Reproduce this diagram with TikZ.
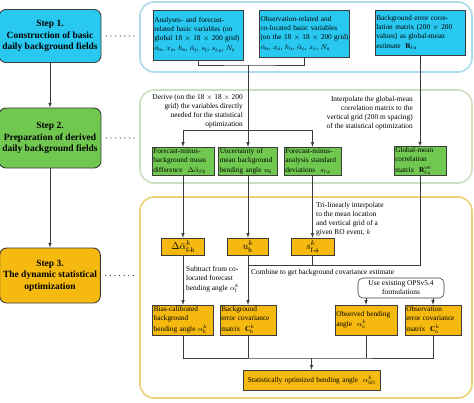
\documentclass[tikz,border=0pt]{standalone}
\usepackage{amsmath}
\usepackage{fontspec}
\setmainfont{Liberation Serif}
\usepackage{tikz}
\usetikzlibrary{arrows}
\usetikzlibrary{positioning}
\definecolor{mdark}{RGB}{60, 60, 60}
\definecolor{mcyan}{RGB}{40, 200, 240}
\definecolor{mgreen}{RGB}{112, 200, 80}
\definecolor{morange}{RGB}{245, 185, 15}
\definecolor{mpanelA}{RGB}{170, 220, 235}
\definecolor{mpanelB}{RGB}{205, 222, 190}
\definecolor{mpanelC}{RGB}{235, 210, 120}
\tikzset{stepbox/.style = {draw = mdark, line width = 0.9, rounded corners = 7, align = center, minimum width = 96, font = \bfseries\fontsize{9.5}{11.5}\selectfont}}
\tikzset{varbox/.style = {draw = mdark, line width = 0.5, align = left, inner sep = 1.2, font = \fontsize{7.3}{8.8}\selectfont}}
\tikzset{symbox/.style = {draw = mdark, line width = 0.5, fill = morange, inner sep = 0, minimum height = 17, font = \fontsize{10}{11}\selectfont}}
\tikzset{panel/.style = {line width = 1.6, rounded corners = 14, fill = white}}
\tikzset{note/.style = {inner sep = 0, font = \fontsize{7.4}{9}\selectfont}}
\tikzset{dotline/.style = {draw = mdark, line width = 1.3, line cap = round, dash pattern = on 0pt off 4.6pt}}
\tikzset{conn/.style = {draw = mdark, line width = 0.6}}
\tikzset{arr/.style = {conn, ->}}

\begin{document}
\begin{tikzpicture}[x=1pt, y=-1pt, >=latex]
    \useasboundingbox (0, 0) rectangle (474, 402);

    % panels
    \node [panel, draw = mpanelA, minimum width = 332, minimum height = 70] (p1) at (306, 37) {};
    \node [panel, draw = mpanelB, minimum width = 332, minimum height = 93] (p2) at (306, 136.5) {};
    \node [panel, draw = mpanelC, minimum width = 332, minimum height = 201] (p3) at (306, 297.5) {};

    % steps
    \node [stepbox, fill = mcyan, minimum height = 53] (s1) at (50, 36) {Step 1.\\Construction of basic\\daily background fields};
    \node [stepbox, fill = mgreen, minimum height = 60] (s2) at (50, 138) {Step 2.\\Preparation of derived\\daily background fields};
    \node [stepbox, fill = morange, minimum height = 55] (s3) at (50, 275.5) {Step 3.\\The dynamic statistical\\optimization};
    \draw [arr] (s1) -- (s2);
    \draw [arr] (s2) -- (s3);
    \draw [dotline] ([xshift = 5pt]s1.east) -- ([xshift = -3pt]s1.east -| p1.west);
    \draw [dotline] ([xshift = 5pt]s2.east) -- ([xshift = -3pt]s2.east -| p2.west);
    \draw [dotline] ([xshift = 5pt]s3.east) -- ([xshift = -3pt]s3.east -| p3.west);

    % step 1
    \node [varbox, fill = mcyan, text width = 87.5, minimum height = 50] (anl) at (198, 35) {Analyses- and forecast-\\related basic variables (on\\global 18 $\times$ 18 $\times$ 200 grid)\\[1.6pt]$\bar{\alpha}_{\text{a}}$, $x_{\text{a}}$, $h_{\text{a}}$, $\bar{\alpha}_{\text{f}}$, $s_{\text{f}}$, $s_{\text{f-a}}$, $N_{\text{a}}$};
    \node [varbox, fill = mcyan, text width = 88, minimum height = 47] (obs) at (304.5, 33.5) {Observation-related and\\co-located basic variables\\(on the 18 $\times$ 18 $\times$ 200 grid)\\[1.6pt]$\bar{\alpha}_{\text{o}}$, $x_{\text{o}}$, $h_{\text{o}}$, $\bar{\alpha}_{\text{c}}$, $x_{\text{c}}$, $N_{\text{o}}$};
    \node [varbox, fill = mcyan, text width = 87.5, minimum height = 45] (cor) at (420, 32.5) {Background error corre-\\lation matrix (200 $\times$ 200\\values) as global-mean\\[1pt]estimate~~$\mathbf{R}_{\text{f-a}}$};

    % step 2
    \node [varbox, fill = mgreen, text width = 59.5, minimum height = 28] (fmb) at (183, 161) {Forecast-minus-\\background mean\\[1.6pt]difference~~$\Delta\bar{\alpha}_{\text{f-b}}$};
    \node [varbox, fill = mgreen, text width = 56.5, minimum height = 28] (unc) at (248, 161) {Uncertainty of\\mean background\\[1pt]bending angle $u_{\text{b}}$};
    \node [varbox, fill = mgreen, text width = 54.5, minimum height = 28] (fma) at (312.5, 161) {Forecast-minus-\\analysis standard\\[1pt]deviations~~$s_{\text{f-a}}$};
    \node [varbox, fill = mgreen, text width = 49.5, minimum height = 28] (gmc) at (420, 161) {Global-mean\\correlation\\[1.6pt]matrix~~$\mathbf{R}^{\text{ver}}_{\text{f-a}}$};
    \coordinate (j1) at (248, 65);
    \coordinate (j2) at (248, 130);
    \draw [conn] (anl.south) |- (j1) -| (obs.south);
    \draw [arr] (j1) -- (unc.north);
    \draw [arr] (j2) -| (fmb.north);
    \draw [arr] (j2) -| (fma.north);
    \draw [arr] (cor.south) -- (gmc.north);
    \node [note, align = right, anchor = east] (drv) at (243, 111) {Derive (on the 18 $\times$ 18 $\times$ 200\\grid) the variables directly\\needed for the statistical\\optimization};
    \node [note, align = right, anchor = east] (itp) at (413, 113.5) {Interpolate the global-mean\\correlation matrix to the\\vertical grid (200 m spacing)\\of the statistical optimization};

    % step 3
    \node [symbox, minimum width = 43] (dab) at (183, 246.5) {$\Delta\bar{\alpha}^{k}_{\text{f-b}}$};
    \node [symbox, minimum width = 41] (ubk) at (248, 246.5) {$u^{k}_{\text{b}}$};
    \node [symbox, minimum width = 43] (sfa) at (312.5, 246.5) {$s^{k}_{\text{f-a}}$};
    \draw [arr] (fmb) -- (dab);
    \draw [arr] (unc) -- (ubk);
    \draw [arr] (fma) -- (sfa);
    \node [note, align = left, anchor = west] (tri) at (316, 219) {Tri-linearly interpolate\\to the mean location\\and vertical grid of a\\given RO event, $k$};

    \node [varbox, fill = morange, text width = 58.5, minimum height = 30] (bcal) at (183, 320) {Bias-calibrated\\background\\[1.6pt]bending angle $\alpha^{k}_{\text{b}}$};
    \node [varbox, fill = morange, text width = 53.5, minimum height = 30] (bcov) at (248, 320) {Background\\error covariance\\[1.6pt]matrix~~$\mathbf{C}^{k}_{\text{b}}$};
    \node [varbox, fill = morange, text width = 59.5, minimum height = 30] (oang) at (366, 320) {Observed bending\\[1.6pt]angle~~$\alpha^{k}_{\text{o}}$};
    \node [varbox, fill = morange, text width = 53.5, minimum height = 30] (ocov) at (433, 320) {Observation\\error covariance\\[1.6pt]matrix~~$\mathbf{C}^{k}_{\text{o}}$};
    \node [varbox, fill = morange, align = center, text width = 134.5, minimum height = 20] (opt) at (311.5, 380) {Statistically optimized bending angle~~$\alpha^{k}_{\text{SO}}$};
    \node [draw = mdark, line width = 0.6, fill = white, rounded corners = 5, align = center, inner sep = 1.2, minimum width = 86, minimum height = 20, font = \fontsize{7.4}{9}\selectfont] (ops) at (401, 288) {Use existing OPSv5.4\\formulations};

    \draw [arr] (dab) -- (bcal);
    \node [note, align = left, anchor = west] (sub) at (186, 279) {Subtract from co-\\located forecast\\[1pt]bending angle $\alpha^{k}_{\text{f}}$};
    \coordinate (j3) at (248, 265);
    \draw [conn] (gmc.south) |- (j3);
    \draw [conn] (sfa.south) -- (sfa.south |- j3);
    \draw [arr] (ubk) -- (bcov);
    \node [note, anchor = west] (cmb) at (251, 272.5) {Combine to get background covariance estimate};
    \draw [arr] (oang.north |- ops.south) -- (oang.north);
    \draw [arr] (ocov.north |- ops.south) -- (ocov.north);

    \coordinate (j4) at (311.5, 358);
    \draw [conn] (bcal.south) |- (j4) -| (ocov.south);
    \draw [conn] (bcov.south) -- (bcov.south |- j4);
    \draw [conn] (oang.south) -- (oang.south |- j4);
    \draw [arr] (j4) -- (opt.north);
\end{tikzpicture}
\end{document}
